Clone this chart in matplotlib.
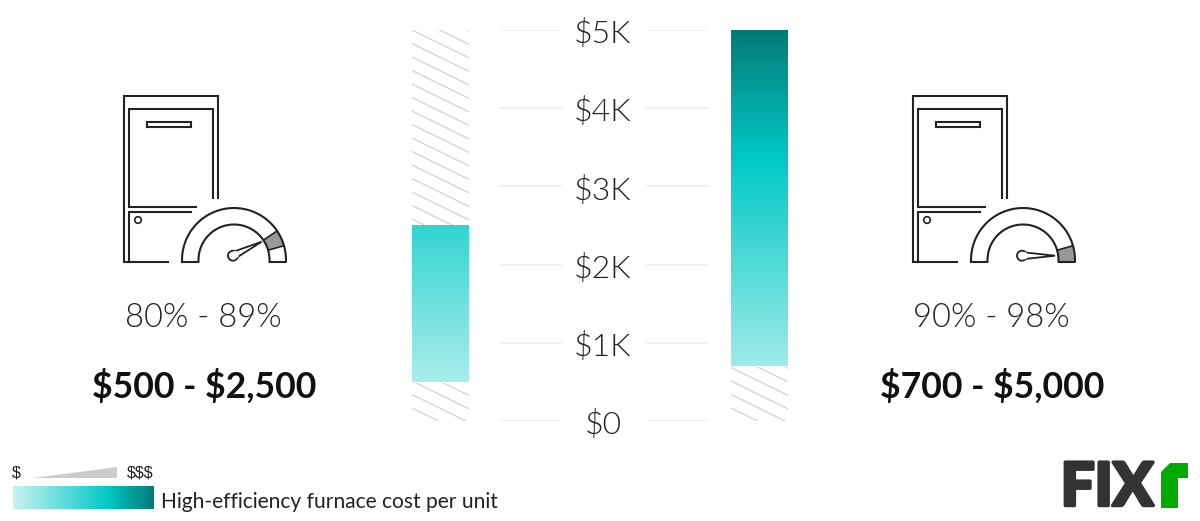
import matplotlib
matplotlib.use("Agg")
import matplotlib.pyplot as plt
import matplotlib.font_manager as fm
import matplotlib.patheffects as pe
import numpy as np
from matplotlib.collections import LineCollection
from matplotlib.colors import LinearSegmentedColormap
from matplotlib.patches import Circle, Polygon, Wedge, Rectangle

plt.rcParams['font.family'] = ['Lato', 'DejaVu Sans']
plt.rcParams['text.parse_math'] = False

# weight="light" lands on Lato Hairline here, so look for the Light file
light_files = [f.fname for f in fm.fontManager.ttflist
               if f.name.startswith('Lato') and f.fname.endswith(('Lato-Light.ttf', 'Lato-Light.otf'))]
if light_files:
    light_font = {"fontproperties": fm.FontProperties(fname=light_files[0])}
    light_fx = []
else:
    light_font = {"fontweight": "light"}
    light_fx = [pe.withStroke(linewidth=0.5, foreground="#111111")]

# data
tick_values = [0, 1000, 2000, 3000, 4000, 5000]
tick_labels = ["$0", "$1K", "$2K", "$3K", "$4K", "$5K"]
range_low = [500, 700]
range_high = [2500, 5000]
efficiency_labels = ["80% - 89%", "90% - 98%"]
cost_labels = ["$500 - $2,500", "$700 - $5,000"]
legend_label = "High-efficiency furnace cost per unit"

# colours
text_dark = "#222222"
text_light = "#222222"
hatch_gray = "#d6d6d6"
grid_gray = "#eeeeee"
gauge_gray = "#999999"
line_dark = "#222222"
cost_cmap = LinearSegmentedColormap.from_list(
    "cost", [(0, "#c8f3f2"), (0.67, "#00c9c6"), (1, "#047a78")])

fig = plt.figure(figsize=(12, 5.21), dpi=100, facecolor="white")

# pixel canvas for icons, text, legend
canvas = fig.add_axes([0, 0, 1, 1])
canvas.set_xlim(0, 1200)
canvas.set_ylim(521, 0)
canvas.axis("off")

# chart axes: x stays in pixels, y is dollars
ax = fig.add_axes([0, (521 - 421) / 521, 1, (421 - 30) / 521])
ax.patch.set_alpha(0)
ax.axis("off")

bar_x = [412, 731]
bar_w = 57

ax.hlines(tick_values, 500, 562, color=grid_gray, lw=1.2)
ax.hlines(tick_values, 646, 708, color=grid_gray, lw=1.2)
for v, lab in zip(tick_values, tick_labels):
    t = ax.annotate(lab, (603, v), xytext=(0, -3), textcoords="offset points", ha="center", va="center",
                    color=text_light, path_effects=light_fx, **light_font)
    t.set_fontsize(23)

for i in range(2):
    # gradient bar
    vals = np.linspace(range_low[i], range_high[i], 256).reshape(-1, 1)
    ax.imshow(vals, cmap=cost_cmap, vmin=0, vmax=5000, origin="lower", aspect="auto",
              extent=[bar_x[i], bar_x[i] + bar_w, range_low[i], range_high[i]], zorder=3)

    # hatching outside the range
    for lo, hi in [(0, range_low[i] - 8), (range_high[i], 5000)]:
        if hi <= lo:
            continue
        clip = Rectangle((bar_x[i], lo), bar_w, hi - lo, fc="none", ec="none")
        ax.add_patch(clip)
        segs = []
        for k in range(-6, 32):
            y0 = 30 + 13.5 * k
            y1 = y0 + 0.49 * bar_w
            segs.append([(bar_x[i], (421 - y0) / 391 * 5000),
                         (bar_x[i] + bar_w, (421 - y1) / 391 * 5000)])
        lc = LineCollection(segs, colors=hatch_gray, linewidths=1.0, zorder=2)
        ax.add_collection(lc)
        lc.set_clip_path(clip)

ax.set_xlim(0, 1200)
ax.set_ylim(0, 5000)


def draw_furnace(dx, gauge_from, gauge_to, needle_angle, needle_len):
    lw = 1.5
    xs = [218, 218, 124, 124, 168]
    ys = [198, 96, 96, 262, 262]
    canvas.plot([x + dx for x in xs], ys, color=line_dark, lw=lw, solid_joinstyle="miter")
    xs = [212.5, 212.5, 129, 129, 196]
    ys = [198, 109, 109, 207, 207]
    canvas.plot([x + dx for x in xs], ys, color=line_dark, lw=lw, solid_joinstyle="miter")
    xs = [191, 129, 129]
    ys = [212, 212, 262]
    canvas.plot([x + dx for x in xs], ys, color=line_dark, lw=lw, solid_joinstyle="miter")
    canvas.add_patch(Rectangle((147 + dx, 122), 44, 5, fc="white", ec=line_dark, lw=lw))
    canvas.add_patch(Circle((138 + dx, 220), 3.3, fc="white", ec=line_dark, lw=1.2))

    # gauge, y axis of the canvas is inverted so angles are negated
    cx, cy = 234 + dx, 260
    r_out, r_in = 52, 35.5
    canvas.add_patch(Wedge((cx, cy), r_out, -(gauge_to), -(gauge_from), width=r_out - r_in,
                           fc=gauge_gray, ec="none", zorder=3))
    t = np.radians(np.linspace(180, 0, 80))
    arc_x = np.r_[cx - r_out, cx + r_out * np.cos(t), cx + r_out, cx + r_in,
                  cx + r_in * np.cos(t[::-1]), cx - r_in, cx - r_out]
    arc_y = np.r_[262, cy - r_out * np.sin(t), 262, 262,
                  cy - r_in * np.sin(t[::-1]), 262, 262]
    canvas.plot(arc_x, arc_y, color=line_dark, lw=lw, zorder=4)
    for ang in [gauge_from, gauge_to]:
        a = np.radians(ang)
        if ang > 0:
            canvas.plot([cx + r_in * np.cos(a), cx + r_out * np.cos(a)],
                        [cy - r_in * np.sin(a), cy - r_out * np.sin(a)], color=line_dark, lw=1.2, zorder=4)

    # needle
    px, py = 233 + dx, 255.7
    a = np.radians(needle_angle)
    tip = (px + needle_len * np.cos(a), py - needle_len * np.sin(a))
    nx, ny = np.sin(a) * 3.6, np.cos(a) * 3.6
    canvas.add_patch(Polygon([(px + nx, py + ny), tip, (px - nx, py - ny)], closed=True,
                             fc="white", ec=line_dark, lw=1.3, zorder=5))
    canvas.add_patch(Circle((px, py), 5, fc="white", ec=line_dark, lw=1.3, zorder=5))
    canvas.add_patch(Circle((px + 2.5 * np.cos(a), py - 2.5 * np.sin(a)), 3.6, fc="white", ec="none", zorder=6))


draw_furnace(0, 16, 34, 26, 32)
draw_furnace(789, -2, 16, 0, 33)

text_x = [203, 991]
for i in range(2):
    t = canvas.text(text_x[i], 318, efficiency_labels[i], ha="center", va="center",
                    color=text_light, path_effects=light_fx, **light_font)
    t.set_fontsize(23.5)
    canvas.text(text_x[i] + 1, 386, cost_labels[i], ha="center", va="center",
                fontsize=25.7, fontweight="bold", color="#111111")

# legend
canvas.add_patch(Polygon([(33, 478), (117, 467), (117, 478)], closed=True, fc="#cccccc", ec="none"))
canvas.text(12, 473, "$", ha="left", va="center", fontsize=11.5, color=text_dark,
            family=["Liberation Sans", "DejaVu Sans"])
canvas.text(127, 473, "$$$", ha="left", va="center", fontsize=11.5, color=text_dark,
            family=["Liberation Sans", "DejaVu Sans"])
canvas.imshow(np.linspace(0, 1, 256).reshape(1, -1), cmap=cost_cmap, aspect="auto",
              extent=[13, 154, 509, 486])
canvas.text(161, 502, legend_label, ha="left", va="center", fontsize=15.1, color=text_dark)
canvas.set_xlim(0, 1200)
canvas.set_ylim(521, 0)

# logo
canvas.text(1107, 487.5, "FIX", ha="center", va="center", fontsize=43, fontweight="black",
            color="#333333", path_effects=[pe.withStroke(linewidth=2.5, foreground="#333333")])
canvas.add_patch(Polygon([(1161, 508), (1161, 472), (1170, 463), (1188, 463), (1188, 478),
                          (1178, 478), (1178, 508)], closed=True, fc="#00aa00", ec="none"))

fig.savefig("out.png", dpi=100)
